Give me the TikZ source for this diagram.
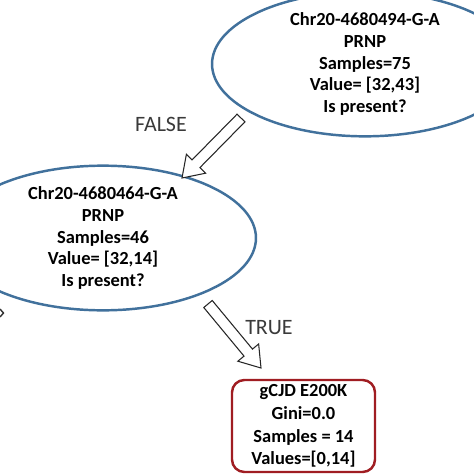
\documentclass[tikz,border=0pt]{standalone}
\usepackage{fontspec}
\setmainfont{Carlito}
\usetikzlibrary{shapes.geometric,calc}
\definecolor{splitblue}{HTML}{41719C}
\definecolor{leafred}{HTML}{A01D22}
\definecolor{lblgray}{HTML}{3A3A3A}
% hollow block arrow from #1 to #2
\newcommand{\hollowarrow}[2]{%
  \coordinate (#1hb) at ($(#2)!0.4cm!(#1)$);
  \draw[arrowline] ($(#1)!0.11cm!-90:(#2)$) -- ($(#1hb)!0.11cm!90:(#1)$)
    -- ($(#1hb)!0.27cm!90:(#1)$) -- (#2) -- ($(#1hb)!0.27cm!-90:(#1)$)
    -- ($(#1hb)!0.11cm!-90:(#1)$) -- ($(#1)!0.11cm!90:(#2)$) -- cycle;}

\begin{document}
\begin{tikzpicture}[x=0.02cm,y=-0.02cm]
  \tikzset{
    split/.style={ellipse,draw=splitblue,line width=1.4pt,minimum width=6.12cm,
      minimum height=2.44cm,inner sep=0pt,align=center,
      font=\bfseries\fontsize{10.5}{12.3}\selectfont},
    leaf/.style={rectangle,rounded corners=7pt,draw=leafred,line width=1.4pt,
      minimum width=2.86cm,minimum height=1.84cm,inner sep=0pt,align=center,
      font=\bfseries\fontsize{10.5}{12.9}\selectfont},
    branch/.style={font=\fontsize{12.5}{14}\selectfont,text=lblgray},
    arrowline/.style={draw=black!85,line width=0.6pt,fill=white}
  }
  \useasboundingbox (0,0) rectangle (474,474);
  \clip (0,0) rectangle (474,474);
  \fill[white] (0,0) rectangle (474,474);

  % split nodes
  \node[split] (root) at (365,64) {Chr20-4680494-G-A\\PRNP\\Samples=75\\Value= [32,43]\\Is present?};
  \node[split] (inner) at (103,238) {Chr20-4680464-G-A\\PRNP\\Samples=46\\Value= [32,14]\\Is present?};
  % leaf
  \node[leaf] (gcjd) at (303.5,426) {gCJD E200K\\Gini=0.0\\Samples = 14\\Values=[0,14]};

  % branch arrows
  \coordinate (falsetail) at (241,118);
  \coordinate (falsetip) at (182,178);
  \hollowarrow{falsetail}{falsetip}
  \node[branch] (falselbl) at (161,124.5) {FALSE};
  \coordinate (truetail) at (208,304);
  \coordinate (truetip) at (261,368);
  \hollowarrow{truetail}{truetip}
  \node[branch] (truelbl) at (269,327.5) {TRUE};

  % cut-off tip at the left edge
  \draw[line width=0.8pt,black!80] (0,309) -- (3.5,313) -- (0,317);
\end{tikzpicture}
\end{document}
